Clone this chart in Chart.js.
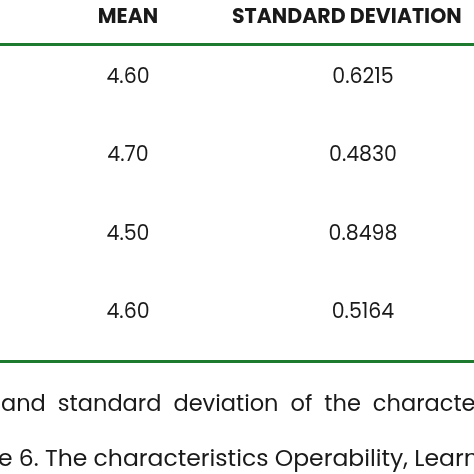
<!DOCTYPE html>
<html><head><meta charset="utf-8">
<script src="https://cdn.jsdelivr.net/npm/chart.js@4/dist/chart.umd.min.js"></script>
<style>html,body{margin:0;padding:0;background:#fff}#w{width:474px;height:474px}</style>
</head><body><div id="w"><canvas id="c"></canvas></div>
<script>
const headers = ["MEAN", "STANDARD DEVIATION"];
const means = [4.60, 4.70, 4.50, 4.60];
const sds = ["0.6215", "0.4830", "0.8498", "0.5164"];
const captions = ["and  standard  deviation  of  the  characte", "e 6. The characteristics Operability, Learn"];

const F = "Poppins, 'Open Sans', Lato, sans-serif";
const tablePlugin = {
  id: 'table',
  afterDatasetsDraw(chart) {
    const ctx = chart.ctx, W = chart.width;
    ctx.save();
    ctx.fillStyle = '#1a1a1a';
    ctx.textBaseline = 'middle';
    ctx.font = 'bold 20.5px ' + F;
    ctx.textAlign = 'center';
    ctx.fillText(headers[0], 128, 18);
    ctx.textAlign = 'left';
    ctx.fillText(headers[1], 232, 18);
    ctx.fillStyle = '#1e7a2e';
    ctx.fillRect(0, 43, W, 3);
    ctx.fillRect(0, 360, W, 3);
    ctx.fillStyle = '#1a1a1a';
    ctx.font = '20.5px ' + F;
    ctx.textAlign = 'center';
    chart.data.datasets.forEach((ds, di) => {
      chart.getDatasetMeta(di).data.forEach((pt, i) => {
        ctx.fillText(ds.labels[i], pt.x, pt.y);
      });
    });
    ctx.textAlign = 'left';
    ctx.font = '22.5px ' + F;
    ctx.fillText(captions[0], 1, 405);
    ctx.font = '23.5px ' + F;
    ctx.fillText(captions[1], -2, 460);
    ctx.restore();
  }
};

new Chart(document.getElementById('c'), {
  type: 'scatter',
  data: { datasets: [
    { data: means.map((v, i) => ({x: 1, y: i + 1})), labels: means.map(v => v.toFixed(2)), pointRadius: 0 },
    { data: sds.map((v, i) => ({x: 2, y: i + 1})), labels: sds, pointRadius: 0 }
  ]},
  options: {
    responsive: true, maintainAspectRatio: false, animation: false,
    layout: { padding: 0 },
    plugins: { legend: { display: false }, tooltip: { enabled: false } },
    scales: {
      x: { type: 'linear', display: false, min: 1 - 128/235, max: 1 + 346/235 },
      y: { type: 'linear', display: false, reverse: true, min: 1 - 78/78.3, max: 1 + 396/78.3 }
    }
  },
  plugins: [tablePlugin]
});
</script></body></html>
